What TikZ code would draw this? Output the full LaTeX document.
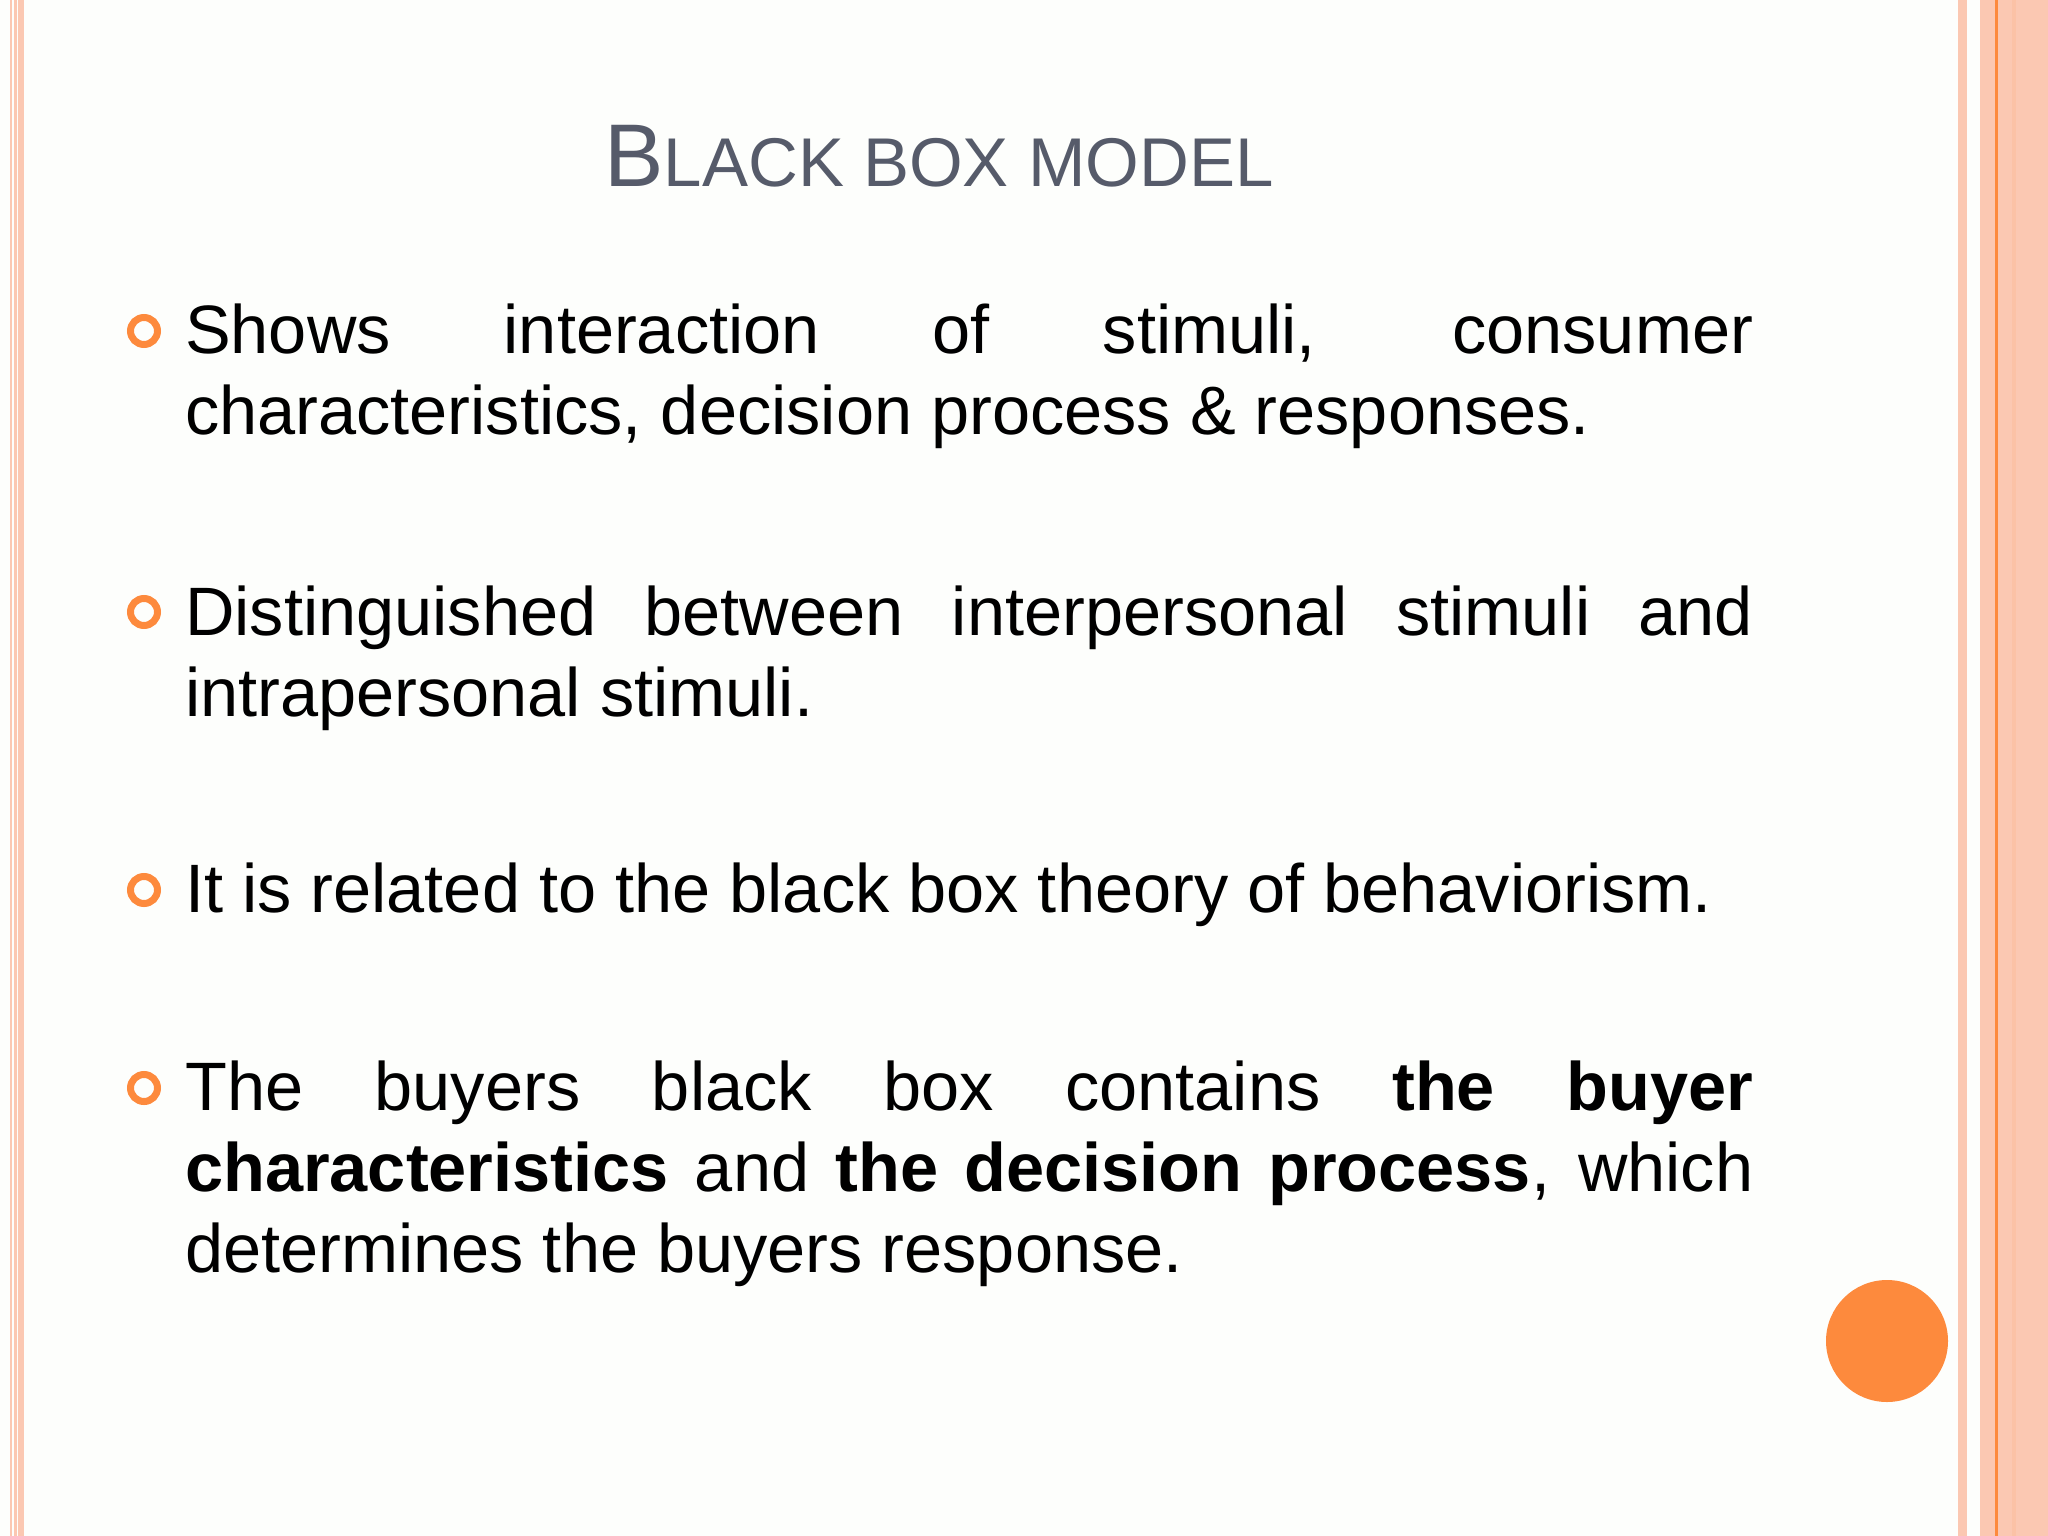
\documentclass[tikz,border=0pt]{standalone}
\usepackage{fontspec}
\setmainfont{Liberation Sans}
\definecolor{salmon}{HTML}{FBC8B2}
\definecolor{orng}{HTML}{FD8A3D}
\definecolor{ttl}{HTML}{565B6A}
\definecolor{bg}{HTML}{FDFEFC}
\tikzset{para/.style={anchor=base west,inner sep=0pt,font=\fontsize{68.5}{84}\selectfont},
bul/.style={circle,draw=orng,line width=7pt,minimum size=27pt,inner sep=0pt}}
\newcommand{\jbox}[1]{\makebox[1568pt][s]{#1}}
\begin{document}
\begin{tikzpicture}[x=1pt,y=-1pt]
\useasboundingbox (0,0) rectangle (2048,1536);
\fill[bg] (0,0) rectangle (2048,1536);
\fill[salmon] (10,0) rectangle (12,1536);
\fill[salmon] (14,0) rectangle (17,1536);
\fill[salmon] (18,0) rectangle (24,1536);
\fill[salmon] (1958,0) rectangle (1967,1536);
\fill[salmon] (1980,0) rectangle (2048,1536);
\fill[orng] (1995,0) rectangle (1998,1536);
\fill[salmon!90!orng] (2012,0) rectangle (2016,1536);
\node[anchor=base,inner sep=0pt,text=ttl] (title) at (939,186) {\fontsize{89}{89}\selectfont B\fontsize{69}{69}\selectfont LACK BOX MODEL};
\node[bul] (b1) at (144,331) {};
\node[para] (p1) at (185,353) {\jbox{Shows interaction of stimuli, consumer}};
\node[para] (p1b) at (185,434) {characteristics, decision process \& responses.};
\node[bul] (b2) at (144,612) {};
\node[para] (p2) at (185,635) {\jbox{Distinguished between interpersonal stimuli and}};
\node[para] (p2b) at (185,716) {intrapersonal stimuli.};
\node[bul] (b3) at (144,890) {};
\node[para] (p3) at (185,912) {It is related to the black box theory of behaviorism.};
\node[bul] (b4) at (144,1088) {};
\node[para] (p4) at (185,1110) {\jbox{The buyers black box contains \textbf{the buyer}}};
\node[para] (p4b) at (185,1191) {\jbox{\textbf{characteristics} and \textbf{the decision process}, which}};
\node[para] (p4c) at (185,1272) {determines the buyers response.};
\fill[orng] (1887,1341) circle (61);
\end{tikzpicture}
\end{document}
